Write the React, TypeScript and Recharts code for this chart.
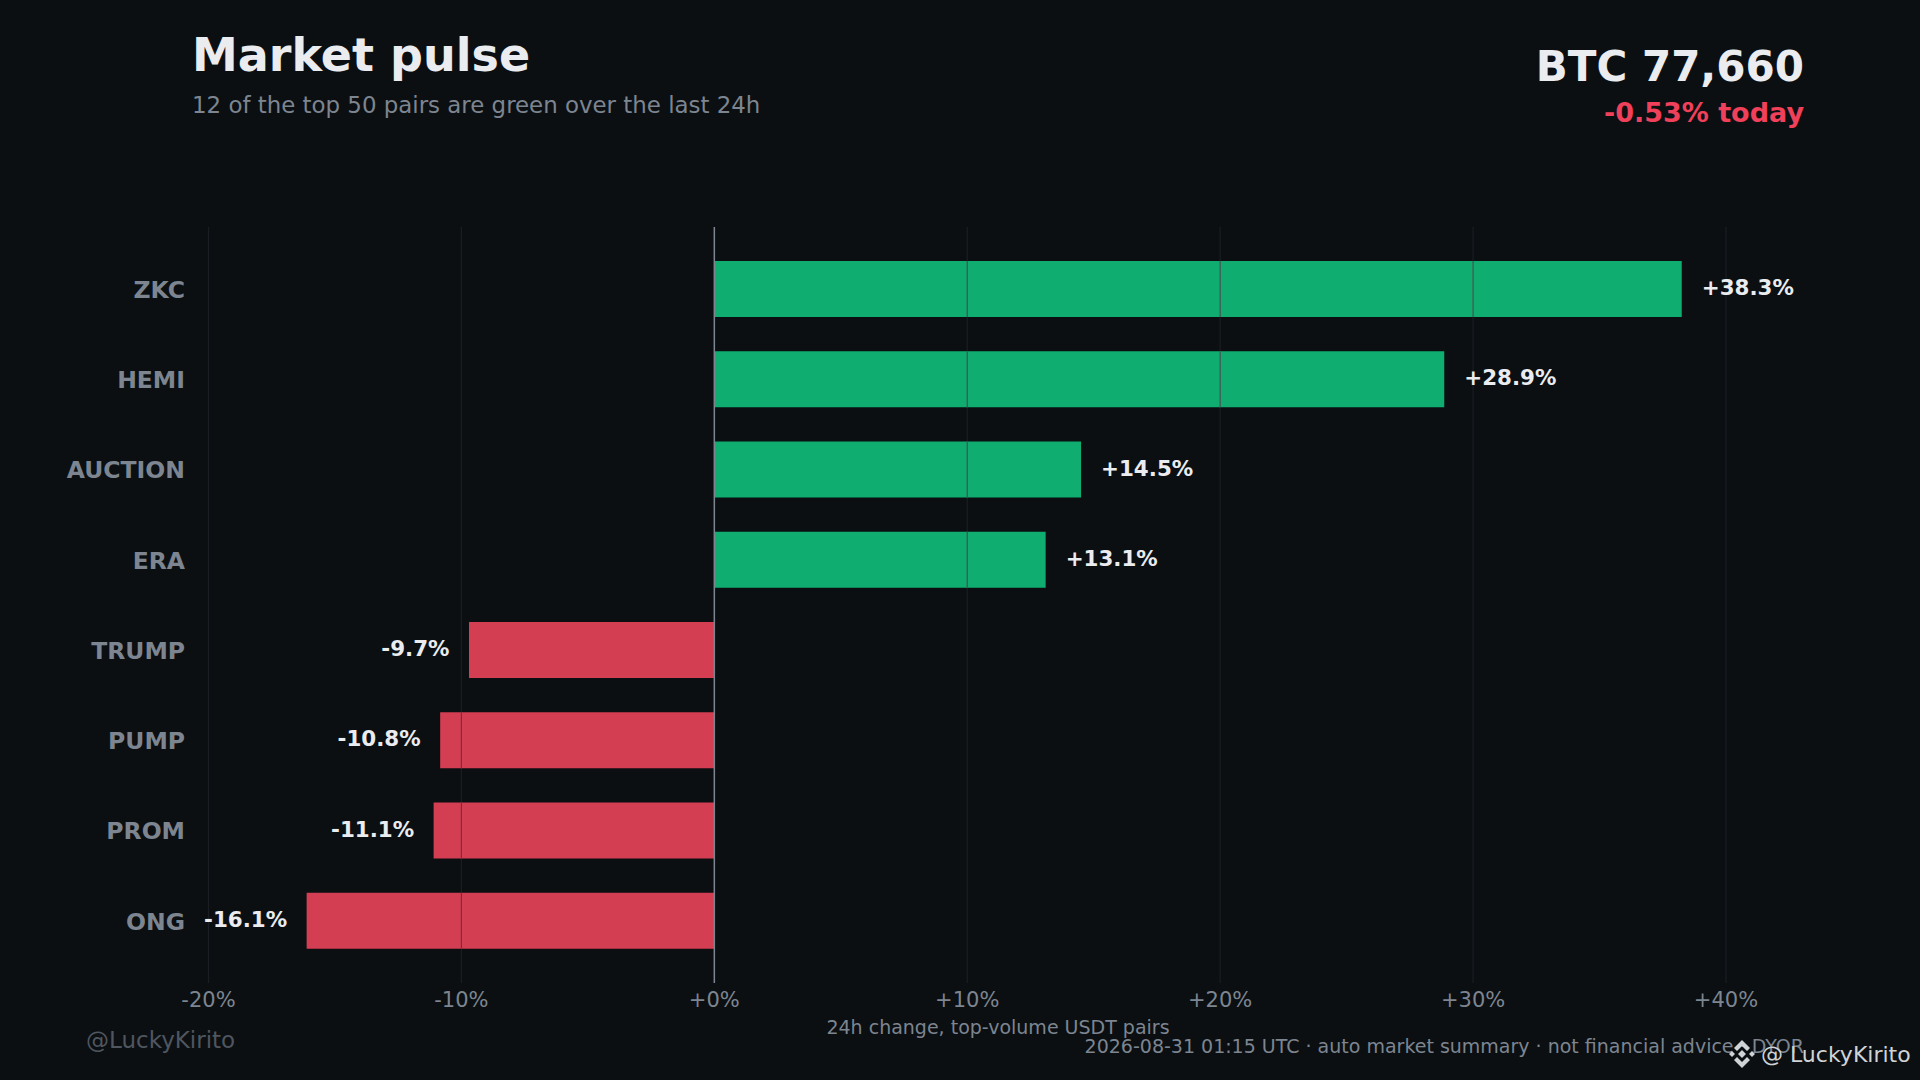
import React from "react";
import { BarChart, Bar, XAxis, YAxis, CartesianGrid, ReferenceLine, LabelList } from "recharts";

const symbols = ["ZKC", "HEMI", "AUCTION", "ERA", "TRUMP", "PUMP", "PROM", "ONG"];
const changes = [38.25, 28.86, 14.5, 13.1, -9.7, -10.84, -11.1, -16.12];
const xTicks = [-20, -10, 0, 10, 20, 30, 40];
const rows = symbols.map((symbol, i) => ({ symbol, change: changes[i] }));

const FONT = "'DejaVu Sans', sans-serif";
const BG = "#0b0f12";
const GREEN = "#0fae70";
const RED = "#d33e52";

const fmt = (v: number, digits = 0) => (v >= 0 ? "+" : "") + v.toFixed(digits) + "%";

const BarShape = (props: any) => {
  const { x, y, width, height, payload } = props;
  const v = payload.change;
  const left = Math.min(x, x + width);
  const w = Math.abs(width);
  const zero = v >= 0 ? left : left + w;
  const perUnit = w / Math.abs(v);
  const inside = xTicks.filter((t) => t !== 0 && (v > 0 ? t > 0 && t < v : t < 0 && t > v));
  return (
    <g>
      <rect x={left} y={y} width={w} height={height} fill={v >= 0 ? GREEN : RED} />
      {inside.map((t) => (
        <line
          key={t}
          x1={zero + t * perUnit}
          x2={zero + t * perUnit}
          y1={y}
          y2={y + height}
          stroke={v >= 0 ? "#4a5054" : "#6a3540"}
          strokeWidth={1.2}
        />
      ))}
    </g>
  );
};

const ValueLabel = (props: any) => {
  const { x, y, width, height, value } = props;
  const end = x + width;
  const pos = value >= 0;
  return (
    <text
      x={pos ? end + 20 : end - 19.5}
      y={y + height / 2 - 1.5}
      textAnchor={pos ? "start" : "end"}
      dominantBaseline="central"
      fill="#eaecf0"
      fontFamily={FONT}
      fontWeight={700}
      fontSize={21.4}
    >
      {fmt(value, 1)}
    </text>
  );
};

export default function App() {
  return (
    <div style={{ position: "absolute", left: 0, top: 0, width: 1920, height: 1080, background: BG, overflow: "hidden" }}>
      <BarChart
        width={1920}
        height={1080}
        data={rows}
        layout="vertical"
        margin={{ top: 227, right: 194, bottom: 0, left: 0 }}
        barCategoryGap={0}
      >
        <CartesianGrid horizontal={false} stroke="#1a1e23" strokeWidth={1.2} />
        <XAxis
          type="number"
          dataKey="change"
          domain={[-20, 40]}
          ticks={xTicks}
          interval={0}
          tickFormatter={(v: number) => fmt(v)}
          axisLine={false}
          tickLine={false}
          height={97}
          tickMargin={3}
          tick={{ fill: "#7d8590", fontFamily: FONT, fontSize: 21 }}
        />
        <YAxis
          type="category"
          dataKey="symbol"
          width={208.5}
          axisLine={false}
          tickLine={false}
          tickMargin={17.5}
          padding={{ top: 17, bottom: 17 }}
          interval={0}
          tick={{ fill: "#7d8590", fontFamily: FONT, fontSize: 23.5, fontWeight: 700, dy: 0.5 }}
        />
        <Bar dataKey="change" barSize={56} isAnimationActive={false} shape={BarShape}>
          <LabelList dataKey="change" content={ValueLabel} />
        </Bar>
        <ReferenceLine x={0} stroke="#7d8590" strokeWidth={1.5} />
      </BarChart>
      <svg width={1920} height={1080} style={{ position: "absolute", left: 0, top: 0, pointerEvents: "none" }} fontFamily={FONT}>
        <text x={192} y={71} fill="#eaecf0" fontSize={46} fontWeight={700}>Market pulse</text>
        <text x={192} y={113} fill="#7d8590" fontSize={22.9}>12 of the top 50 pairs are green over the last 24h</text>
        <text x={1804} y={81} textAnchor="end" fill="#eaecf0" fontSize={42} fontWeight={700}>BTC 77,660</text>
        <text x={1804} y={122} textAnchor="end" fill="#f0405a" fontSize={27} fontWeight={700}>-0.53% today</text>
        <text x={998} y={1034} textAnchor="middle" fill="#7d8590" fontSize={19}>24h change, top-volume USDT pairs</text>
        <text x={1804} y={1053} textAnchor="end" fill="#7d8590" fontSize={19}>2026-08-31 01:15 UTC · auto market summary · not financial advice · DYOR</text>
        <text x={86} y={1048} fill="#4f565f" fontSize={23}>@LuckyKirito</text>
        <g fill="#d0d3d6" transform="translate(1742 1054)">
          <polygon points="0,-4 4,0 0,4 -4,0" />
          <polygon points="-9,0 -6,-3 -3,0 -6,3" transform="translate(-4 0)" />
          <polygon points="9,0 6,-3 3,0 6,3" transform="translate(4 0)" />
          <polygon points="0,-14 8,-6 5,-3 0,-8 -5,-3 -8,-6" />
          <polygon points="0,14 8,6 5,3 0,8 -5,3 -8,6" />
        </g>
        <text x={1761} y={1062} fill="#d0d3d6" fontSize={22}>@ LuckyKirito</text>
      </svg>
    </div>
  );
}
